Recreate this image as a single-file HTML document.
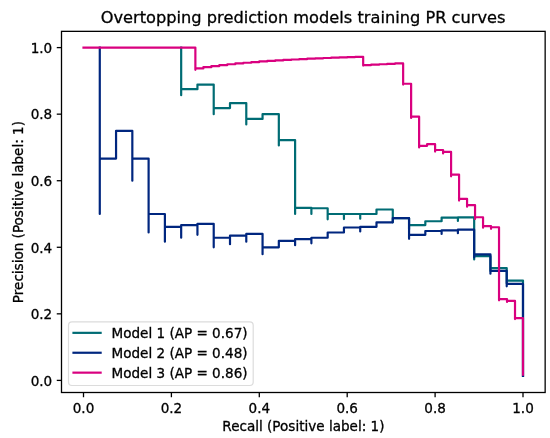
<!DOCTYPE html>
<html><head><meta charset="utf-8"><title>Overtopping prediction models training PR curves</title>
<style>
html,body{margin:0;padding:0;background:#fff;}
body{width:550px;height:438px;overflow:hidden;}
svg{display:block;}
.t{font-family:"DejaVu Sans","Liberation Sans",sans-serif;font-size:13.55px;fill:#000;stroke:#000;stroke-width:0.3px;}
.ti{font-family:"DejaVu Sans","Liberation Sans",sans-serif;font-size:16.23px;fill:#000;stroke:#000;stroke-width:0.3px;}
</style></head><body>
<svg width="550" height="438" viewBox="0 0 550 438"><rect x="0" y="0" width="550" height="438" fill="#ffffff"/>
<defs><clipPath id="ax"><rect x="61.50" y="31.35" width="483.65" height="361.15"/></clipPath></defs>
<path d="M523.00 375.91 L523.00 280.56 L506.72 280.56 L506.72 283.18 L506.72 268.03 L490.44 268.03 L490.44 270.93 L490.44 256.22 L474.17 256.22 L474.17 259.38 L474.17 217.40 L457.89 217.40 L457.89 220.93 L457.89 217.54 L441.61 217.54 L441.61 221.23 L425.33 221.23 L425.33 225.09 L409.06 225.09 L409.06 229.13 L409.06 218.06 L392.78 218.06 L392.78 222.32 L392.78 209.50 L376.50 209.50 L376.50 214.00 L360.22 214.00 L360.22 218.75 L360.22 214.00 L343.94 214.00 L343.94 219.04 L343.94 214.00 L327.67 214.00 L327.67 219.37 L327.67 208.26 L311.39 208.26 L311.39 214.00 L311.39 207.84 L295.11 207.84 L295.11 214.00 L295.11 140.04 L278.83 140.04 L278.83 145.48 L278.83 114.16 L262.56 114.16 L262.56 118.91 L246.28 118.91 L246.28 124.40 L246.28 103.07 L230.00 103.07 L230.00 108.11 L213.72 108.11 L213.72 114.16 L213.72 84.58 L197.44 84.58 L197.44 89.20 L181.17 89.20 L181.17 95.14 L181.17 47.60" fill="none" stroke="#006c74" stroke-width="2.20" stroke-linecap="square" stroke-linejoin="round" clip-path="url(#ax)"/>
<path d="M523.00 375.91 L523.00 283.78 L506.72 283.78 L506.72 286.35 L506.72 270.87 L490.44 270.87 L490.44 273.73 L490.44 254.34 L474.17 254.34 L474.17 257.52 L474.17 229.70 L457.89 229.70 L457.89 233.20 L457.89 230.31 L441.61 230.31 L441.61 233.97 L441.61 230.98 L425.33 230.98 L425.33 234.80 L409.06 234.80 L409.06 238.78 L409.06 218.06 L392.78 218.06 L392.78 222.32 L376.50 222.32 L376.50 226.80 L360.22 226.80 L360.22 231.52 L360.22 227.49 L343.94 227.49 L343.94 232.49 L327.67 232.49 L327.67 237.77 L311.39 237.77 L311.39 243.36 L311.39 239.21 L295.11 239.21 L295.11 245.20 L295.11 240.84 L278.83 240.84 L278.83 247.28 L262.56 247.28 L262.56 254.17 L262.56 233.97 L246.28 233.97 L246.28 241.73 L246.28 235.70 L230.00 235.70 L230.00 244.25 L230.00 237.77 L213.72 237.77 L213.72 247.28 L213.72 223.79 L197.44 223.79 L197.44 234.80 L197.44 225.09 L181.17 225.09 L181.17 237.77 L181.17 226.80 L164.89 226.80 L164.89 241.73 L164.89 214.00 L148.61 214.00 L148.61 232.49 L148.61 158.53 L132.33 158.53 L132.33 180.72 L132.33 130.80 L116.06 130.80 L116.06 158.53 L99.78 158.53 L99.78 214.00 L99.78 47.60" fill="none" stroke="#00267f" stroke-width="2.20" stroke-linecap="square" stroke-linejoin="round" clip-path="url(#ax)"/>
<path d="M523.00 374.71 L523.00 318.14 L515.01 318.14 L515.01 319.06 L515.01 300.88 L507.02 300.88 L507.02 302.01 L507.02 299.12 L499.03 299.12 L499.03 300.28 L499.03 227.25 L491.04 227.25 L491.04 228.86 L491.04 226.10 L483.05 226.10 L483.05 227.74 L483.05 217.26 L475.05 217.26 L475.05 218.94 L475.05 205.05 L467.06 205.05 L467.06 206.77 L467.06 198.87 L459.07 198.87 L459.07 200.61 L459.07 174.59 L451.08 174.59 L451.08 176.28 L451.08 151.91 L443.09 151.91 L443.09 153.49 L443.09 150.00 L435.10 150.00 L435.10 151.60 L435.10 144.22 L427.11 144.22 L427.11 145.80 L419.12 145.80 L419.12 147.44 L419.12 116.67 L411.13 116.67 L411.13 118.00 L411.13 83.77 L403.14 83.77 L403.14 84.58 L403.14 63.45 L395.15 63.45 L395.15 63.83 L387.15 63.83 L387.15 64.24 L379.16 64.24 L379.16 64.67 L371.17 64.67 L371.17 65.12 L363.18 65.12 L363.18 65.59 L363.18 56.84 L355.19 56.84 L355.19 57.11 L347.20 57.11 L347.20 57.39 L339.21 57.39 L339.21 57.68 L331.22 57.68 L331.22 58.00 L323.23 58.00 L323.23 58.34 L315.24 58.34 L315.24 58.69 L307.25 58.69 L307.25 59.08 L299.25 59.08 L299.25 59.49 L291.26 59.49 L291.26 59.93 L283.27 59.93 L283.27 60.40 L275.28 60.40 L275.28 60.91 L267.29 60.91 L267.29 61.47 L259.30 61.47 L259.30 62.07 L251.31 62.07 L251.31 62.73 L243.32 62.73 L243.32 63.45 L235.33 63.45 L235.33 64.24 L227.34 64.24 L227.34 65.12 L219.35 65.12 L219.35 66.09 L211.35 66.09 L211.35 67.18 L203.36 67.18 L203.36 68.40 L195.37 68.40 L195.37 69.79 L195.37 47.60 L187.38 47.60 L179.39 47.60 L171.40 47.60 L163.41 47.60 L155.42 47.60 L147.43 47.60 L139.44 47.60 L131.45 47.60 L123.45 47.60 L115.46 47.60 L107.47 47.60 L99.48 47.60 L91.49 47.60 L83.50 47.60" fill="none" stroke="#d9007f" stroke-width="2.20" stroke-linecap="square" stroke-linejoin="round" clip-path="url(#ax)"/>
<rect x="68.50" y="321.80" width="184.70" height="63.70" rx="3.5" ry="3.5" fill="#ffffff" fill-opacity="0.8" stroke="#dcdcdc" stroke-width="1.2"/>
<line x1="73.5" y1="332.85" x2="100.6" y2="332.85" stroke="#006c74" stroke-width="2.20" stroke-linecap="square"/>
<text x="111.5" y="337.90" class="t">Model 1 (AP = 0.67)</text>
<line x1="73.5" y1="352.75" x2="100.6" y2="352.75" stroke="#00267f" stroke-width="2.20" stroke-linecap="square"/>
<text x="111.5" y="357.80" class="t">Model 2 (AP = 0.48)</text>
<line x1="73.5" y1="372.65" x2="100.6" y2="372.65" stroke="#d9007f" stroke-width="2.20" stroke-linecap="square"/>
<text x="111.5" y="377.70" class="t">Model 3 (AP = 0.86)</text>
<rect x="61.50" y="31.35" width="483.65" height="361.15" fill="none" stroke="#000" stroke-width="1.3" stroke-linejoin="miter"/>
<line x1="83.50" y1="392.50" x2="83.50" y2="397.24" stroke="#000" stroke-width="1.3"/>
<text x="83.50" y="412.7" class="t" text-anchor="middle">0.0</text>
<line x1="61.50" y1="380.40" x2="56.76" y2="380.40" stroke="#000" stroke-width="1.3"/>
<text x="52.2" y="385.65" class="t" text-anchor="end">0.0</text>
<line x1="171.40" y1="392.50" x2="171.40" y2="397.24" stroke="#000" stroke-width="1.3"/>
<text x="171.40" y="412.7" class="t" text-anchor="middle">0.2</text>
<line x1="61.50" y1="313.84" x2="56.76" y2="313.84" stroke="#000" stroke-width="1.3"/>
<text x="52.2" y="319.09" class="t" text-anchor="end">0.2</text>
<line x1="259.30" y1="392.50" x2="259.30" y2="397.24" stroke="#000" stroke-width="1.3"/>
<text x="259.30" y="412.7" class="t" text-anchor="middle">0.4</text>
<line x1="61.50" y1="247.28" x2="56.76" y2="247.28" stroke="#000" stroke-width="1.3"/>
<text x="52.2" y="252.53" class="t" text-anchor="end">0.4</text>
<line x1="347.20" y1="392.50" x2="347.20" y2="397.24" stroke="#000" stroke-width="1.3"/>
<text x="347.20" y="412.7" class="t" text-anchor="middle">0.6</text>
<line x1="61.50" y1="180.72" x2="56.76" y2="180.72" stroke="#000" stroke-width="1.3"/>
<text x="52.2" y="185.97" class="t" text-anchor="end">0.6</text>
<line x1="435.10" y1="392.50" x2="435.10" y2="397.24" stroke="#000" stroke-width="1.3"/>
<text x="435.10" y="412.7" class="t" text-anchor="middle">0.8</text>
<line x1="61.50" y1="114.16" x2="56.76" y2="114.16" stroke="#000" stroke-width="1.3"/>
<text x="52.2" y="119.41" class="t" text-anchor="end">0.8</text>
<line x1="523.00" y1="392.50" x2="523.00" y2="397.24" stroke="#000" stroke-width="1.3"/>
<text x="523.00" y="412.7" class="t" text-anchor="middle">1.0</text>
<line x1="61.50" y1="47.60" x2="56.76" y2="47.60" stroke="#000" stroke-width="1.3"/>
<text x="52.2" y="52.85" class="t" text-anchor="end">1.0</text>
<text x="303.4" y="431.1" class="t" text-anchor="middle">Recall (Positive label: 1)</text>
<text x="0" y="0" class="t" text-anchor="middle" transform="translate(22.7 212.1) rotate(-90)">Precision (Positive label: 1)</text>
<text x="303.1" y="23.3" class="ti" text-anchor="middle">Overtopping prediction models training PR curves</text></svg>
</body></html>
